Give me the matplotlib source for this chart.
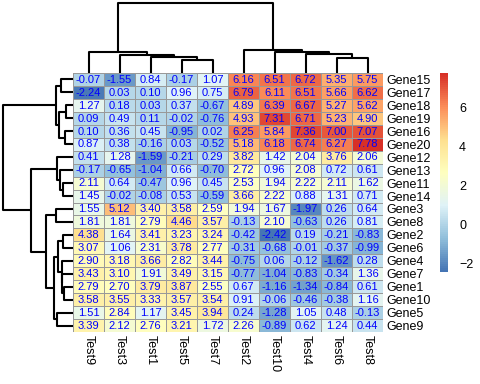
import matplotlib
matplotlib.use('Agg')
import matplotlib.pyplot as plt
import numpy as np
from matplotlib.colors import LinearSegmentedColormap

plt.rcParams['font.family'] = ['Liberation Sans', 'DejaVu Sans']

# Data as displayed (rows/cols already in clustered order)
columnas = ['Test9', 'Test3', 'Test1', 'Test5', 'Test7',
            'Test2', 'Test10', 'Test4', 'Test6', 'Test8']
genes = ['Gene15', 'Gene17', 'Gene18', 'Gene19', 'Gene16', 'Gene20',
         'Gene12', 'Gene13', 'Gene11', 'Gene14', 'Gene3', 'Gene8',
         'Gene2', 'Gene6', 'Gene4', 'Gene7', 'Gene1', 'Gene10',
         'Gene5', 'Gene9']
valores = np.array([
    [-0.07, -1.55, 0.84, -0.17, 1.07, 6.16, 6.51, 6.72, 5.35, 5.75],
    [-2.24, 0.03, 0.10, 0.96, 0.75, 6.79, 6.11, 6.51, 5.66, 6.62],
    [1.27, 0.18, 0.03, 0.37, -0.67, 4.89, 6.39, 6.67, 5.27, 5.62],
    [0.09, 0.49, 0.11, -0.02, -0.76, 4.93, 7.31, 6.71, 5.23, 4.90],
    [0.10, 0.36, 0.45, -0.95, 0.02, 6.25, 5.84, 7.36, 7.00, 7.07],
    [0.87, 0.38, -0.16, 0.03, -0.52, 5.18, 6.18, 6.74, 6.27, 7.78],
    [0.41, 1.28, -1.59, -0.21, 0.29, 3.82, 1.42, 2.04, 3.76, 2.06],
    [-0.17, -0.65, -1.04, 0.66, -0.70, 2.72, 0.96, 2.08, 0.72, 0.61],
    [2.11, 0.64, -0.47, 0.96, 0.45, 2.53, 1.94, 2.22, 2.11, 1.62],
    [1.45, -0.02, -0.08, 0.53, -0.59, 3.66, 2.22, 0.88, 1.31, 0.71],
    [1.55, 5.12, 3.40, 3.58, 2.59, 1.94, 1.67, -1.97, 0.26, 0.64],
    [1.81, 1.81, 2.79, 4.46, 3.57, -0.13, 2.10, -0.63, 0.26, 0.81],
    [4.38, 1.64, 3.41, 3.23, 3.24, -0.42, -2.42, 0.19, -0.21, -0.83],
    [3.07, 1.06, 2.31, 3.78, 2.77, -0.31, -0.68, -0.01, -0.37, -0.99],
    [2.90, 3.18, 3.66, 2.82, 3.44, -0.75, 0.06, -0.12, -1.62, 0.28],
    [3.43, 3.10, 1.91, 3.49, 3.15, -0.77, -1.04, -0.83, -0.34, 1.36],
    [2.79, 2.70, 3.79, 3.87, 2.55, 0.67, -1.16, -1.34, -0.84, 0.61],
    [3.58, 3.55, 3.33, 3.57, 3.54, 0.91, -0.06, -0.46, -0.38, 1.16],
    [1.51, 2.84, 1.17, 3.45, 3.94, 0.24, -1.28, 1.05, 0.48, -0.13],
    [3.39, 2.12, 2.76, 3.21, 1.72, 2.26, -0.89, 0.62, 1.24, 0.44],
])

colores = ['#4575B4', '#91BFDB', '#E0F3F8', '#FFFFBF', '#FEE090', '#FC8D59', '#D73027']
cmap = LinearSegmentedColormap.from_list('rdylbu', colores, N=100)
vmin, vmax = valores.min(), valores.max()


def enlace_completo(datos):
    # complete linkage, euclidean distance
    n = len(datos)
    d = np.sqrt(((datos[:, None, :] - datos[None, :, :]) ** 2).sum(-1))
    grupos = [[i] for i in range(n)]
    ids = list(range(n))
    uniones = []
    sig = n
    while len(grupos) > 1:
        mejor = None
        for a in range(len(grupos)):
            for b in range(a + 1, len(grupos)):
                h = d[np.ix_(grupos[a], grupos[b])].max()
                if mejor is None or h < mejor[0]:
                    mejor = (h, a, b)
        h, a, b = mejor
        uniones.append((ids[a], ids[b], h))
        nuevo = grupos[a] + grupos[b]
        for k in sorted([a, b], reverse=True):
            del grupos[k]
            del ids[k]
        grupos.append(nuevo)
        ids.append(sig)
        sig += 1
    return uniones


def dibujar_arbol(ax, datos, horizontal):
    n = len(datos)
    uniones = enlace_completo(datos)
    pos = {i: i + 0.5 for i in range(n)}
    alt = {i: 0.0 for i in range(n)}
    hmax = max(u[2] for u in uniones)
    nodo = n
    for a, b, h in uniones:
        xs = [pos[a], pos[a], pos[b], pos[b]]
        ys = [alt[a], h, h, alt[b]]
        if horizontal:
            ax.plot(xs, ys, color='black', lw=1.5, solid_capstyle='butt')
        else:
            ax.plot(ys, xs, color='black', lw=1.5, solid_capstyle='butt')
        pos[nodo] = (pos[a] + pos[b]) / 2
        alt[nodo] = h
        nodo += 1
    if horizontal:
        ax.set_xlim(0, n)
        ax.set_ylim(0, hmax * 1.05)
    else:
        ax.set_ylim(n, 0)
        ax.set_xlim(hmax * 1.05, 0)
    ax.axis('off')


fig = plt.figure(figsize=(4.8, 3.84), dpi=100)


def ejes_px(x0, y0, x1, y1):
    return fig.add_axes([x0 / 480, 1 - y1 / 384, (x1 - x0) / 480, (y1 - y0) / 384])


x0, x1, y0, y1 = 73, 383, 73, 332
ax = ejes_px(x0, y0, x1, y1)
ax.pcolormesh(valores, cmap=cmap, vmin=vmin, vmax=vmax,
              edgecolors='#999999', linewidth=0.7)
ax.set_xlim(0, len(columnas))
ax.set_ylim(len(genes), 0)
for i in range(len(genes)):
    for j in range(len(columnas)):
        ax.text(j + 0.5, i + 0.52, f'{valores[i, j]:.2f}', ha='center', va='center',
                fontsize=8, color='blue')
ax.set_xticks(np.arange(len(columnas)) + 0.5)
ax.set_xticklabels(columnas, rotation=270, fontsize=9)
ax.set_yticks(np.arange(len(genes)) + 0.5)
ax.set_yticklabels(genes, fontsize=9)
ax.yaxis.tick_right()
ax.tick_params(length=0, pad=2.5)
for s in ax.spines.values():
    s.set_visible(False)

# dendrogramas
ax_col = ejes_px(x0, 0, x1, y0)
dibujar_arbol(ax_col, valores.T, True)
ax_fil = ejes_px(0, y0, x0, y1)
dibujar_arbol(ax_fil, valores, False)

# leyenda de color
ax_cb = ejes_px(440, 73, 448, 272)
grad = np.linspace(vmin, vmax, 200)[:, None]
ax_cb.imshow(grad, cmap=cmap, vmin=vmin, vmax=vmax, aspect='auto',
             origin='lower', extent=[0, 1, vmin, vmax])
ax_cb.set_xticks([])
ax_cb.set_yticks([-2, 0, 2, 4, 6])
ax_cb.yaxis.tick_right()
ax_cb.tick_params(length=0, pad=8, labelsize=9)
for s in ax_cb.spines.values():
    s.set_visible(False)

fig.savefig('out.png', dpi=100)
